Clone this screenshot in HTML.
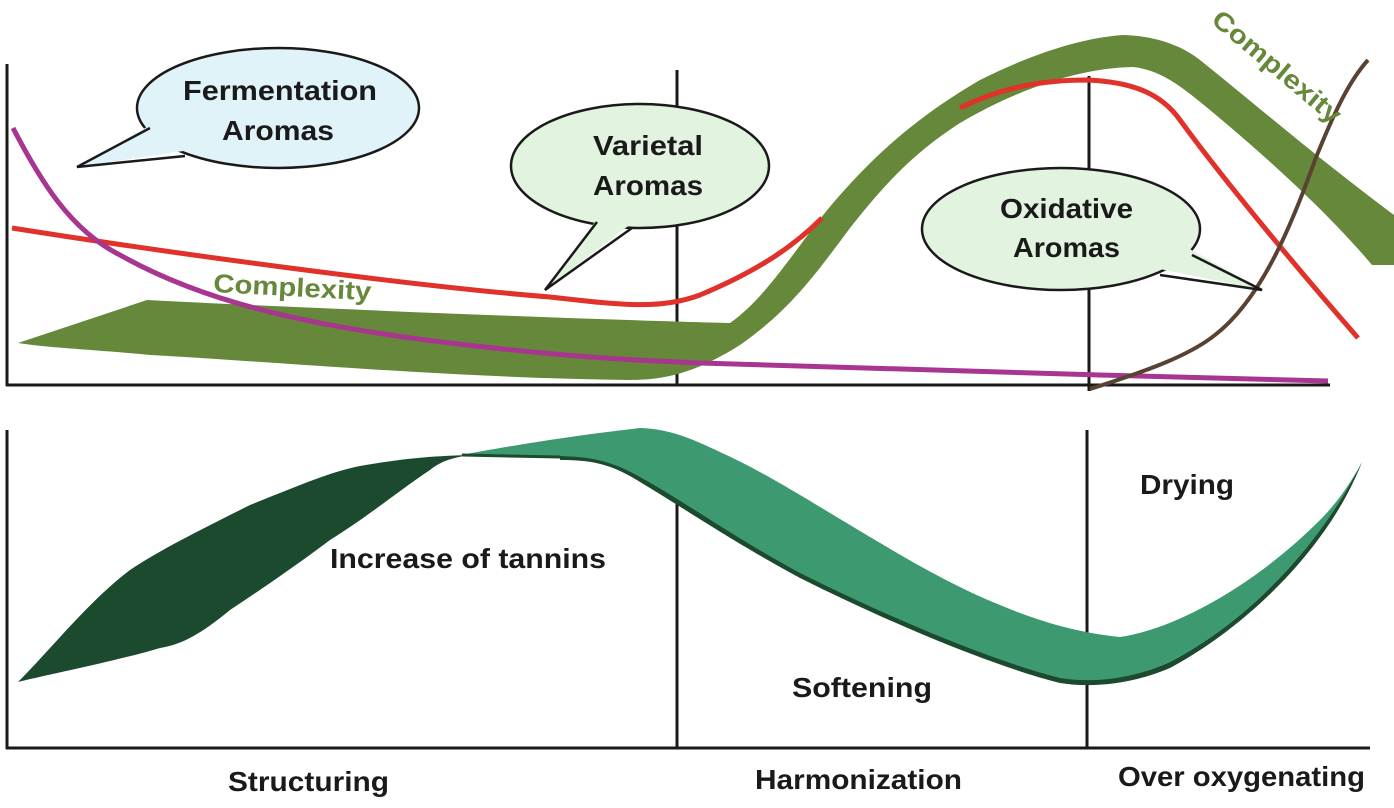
<!DOCTYPE html>
<html><head><meta charset="utf-8"><style>
html,body{margin:0;padding:0;background:#fff;}
svg{display:block;}
text{font-family:"Liberation Sans Narrow","Liberation Sans",sans-serif;font-weight:bold;fill:#1a1a1a;}
</style></head><body>
<svg width="1394" height="808" viewBox="0 0 1394 808" xmlns="http://www.w3.org/2000/svg">
<g stroke="#1a1a1a" stroke-width="3" fill="none">
<line x1="7" y1="64" x2="7" y2="386"/>
<line x1="6" y1="385" x2="1330" y2="385"/>
<line x1="677" y1="70" x2="677" y2="385"/>
<line x1="1089" y1="76" x2="1089" y2="391"/>
</g>
<path d="M18,343 L147,300 C300,308 600,320 730,323 C770,295 800,240 840,195 C880,150 920,115 980,80 C1030,55 1080,38 1123,35 C1160,36 1185,48 1200,60 C1250,100 1320,160 1394,215 L1394,265 L1372,265 C1330,215 1270,160 1210,110 C1180,85 1160,70 1133,67 C1080,68 1020,88 960,123 C910,155 880,190 850,228 C815,275 790,310 740,345 C700,370 670,380 630,380 C450,378 250,360 150,355 C100,350 50,348 18,343 Z" fill="#65883a"/>
<path d="M12,228 C150,250 400,285 550,297 C620,305 660,310 700,295 C760,270 795,245 822,218" stroke="#e0312b" stroke-width="5" fill="none"/>
<path d="M960,108 C1000,88 1040,80 1088,80 C1130,82 1160,92 1180,120 C1220,175 1290,260 1358,338" stroke="#e0312b" stroke-width="5" fill="none"/>
<path d="M13,128 C40,180 70,230 120,255 C200,300 300,325 450,343 C550,355 620,360 700,363 C850,368 1000,373 1100,375 C1200,378 1280,380 1328,381" stroke="#a8358f" stroke-width="5" fill="none"/>
<path d="M1090,389 C1150,370 1190,355 1215,335 C1260,300 1290,230 1315,160 C1335,110 1350,80 1368,60" stroke="#5a4233" stroke-width="4" fill="none"/>
<g stroke="#1a1a1a" stroke-width="2.5">
<ellipse cx="278" cy="108" rx="141" ry="60" fill="#e0f3f8"/>
<polygon points="152,124 77,167 190,150" fill="#e0f3f8" stroke="none"/>
<polyline points="150,128 77,167 185,156" fill="none"/>
<ellipse cx="640" cy="166" rx="129" ry="62" fill="#e2f3e0"/>
<polygon points="600,215 545,290 636,220" fill="#e2f3e0" stroke="none"/>
<polyline points="597,222 545,290 632,228" fill="none"/>
<ellipse cx="1061" cy="229" rx="139" ry="61" fill="#e2f3e0"/>
<polygon points="1188,248 1262,290 1155,268" fill="#e2f3e0" stroke="none"/>
<polyline points="1192,255 1262,290 1160,275" fill="none"/>
</g>
<text x="183" y="100" font-size="28" textLength="194" lengthAdjust="spacingAndGlyphs">Fermentation</text>
<text x="222" y="140" font-size="28" textLength="112" lengthAdjust="spacingAndGlyphs">Aromas</text>
<text x="593" y="155" font-size="28" textLength="110" lengthAdjust="spacingAndGlyphs">Varietal</text>
<text x="593" y="195" font-size="28" textLength="110" lengthAdjust="spacingAndGlyphs">Aromas</text>
<text x="1000" y="218" font-size="28" textLength="133" lengthAdjust="spacingAndGlyphs">Oxidative</text>
<text x="1013" y="257" font-size="28" textLength="107" lengthAdjust="spacingAndGlyphs">Aromas</text>
<text x="213" y="292" font-size="26" textLength="158" lengthAdjust="spacingAndGlyphs" transform="rotate(3 213 292)" style="fill:#65883a">Complexity</text>
<text x="1210" y="22" font-size="26" textLength="160" lengthAdjust="spacingAndGlyphs" transform="rotate(40 1210 22)" style="fill:#65883a">Complexity</text>
<g stroke="#1a1a1a" stroke-width="3" fill="none">
<line x1="7" y1="430" x2="7" y2="749"/>
<line x1="6" y1="748" x2="1370" y2="748"/>
<line x1="677" y1="490" x2="677" y2="748"/>
<line x1="1087" y1="430" x2="1087" y2="748"/>
</g>
<path d="M1362,462 C1330,545 1250,625 1170,668 C1130,685 1090,688 1060,683 C1000,668 900,628 800,578 C730,540 690,512 640,482 C610,463 590,460 560,460 L560,456 C590,456 610,459 640,476 C690,505 730,532 800,572 C900,622 1000,662 1060,677 C1090,682 1130,680 1170,662 C1250,620 1320,545 1362,462 Z" fill="#1b4a2e"/>
<path d="M460,455 C500,448 560,437 640,428 C670,429 690,438 720,452 C760,470 800,495 850,525 C900,555 950,585 1000,605 C1040,622 1080,633 1120,637 C1170,630 1250,590 1320,520 C1340,500 1352,480 1362,462 C1320,545 1250,620 1170,662 C1130,680 1090,683 1060,678 C1000,663 900,623 800,573 C730,535 690,505 640,477 C610,460 590,457 560,456 C520,455 490,455 460,455 Z" fill="#3d9970"/>
<path d="M18,682 C50,650 90,600 130,570 C160,550 200,530 250,505 C300,485 330,472 360,466 C400,459 430,456 470,455 C450,458 440,462 430,470 C400,490 370,515 330,540 C290,570 260,590 230,610 C200,635 180,645 160,648 C120,660 60,672 18,682 Z" fill="#1b4a2e"/>
<path d="M462,455 L560,457" stroke="#1b4a2e" stroke-width="3" fill="none"/>
<text x="330" y="568" font-size="28" textLength="276" lengthAdjust="spacingAndGlyphs">Increase of tannins</text>
<text x="792" y="697" font-size="28" textLength="140" lengthAdjust="spacingAndGlyphs">Softening</text>
<text x="1140" y="494" font-size="28" textLength="94" lengthAdjust="spacingAndGlyphs">Drying</text>
<text x="228" y="791" font-size="28" textLength="161" lengthAdjust="spacingAndGlyphs">Structuring</text>
<text x="755" y="789" font-size="28" textLength="207" lengthAdjust="spacingAndGlyphs">Harmonization</text>
<text x="1118" y="786" font-size="28" textLength="247" lengthAdjust="spacingAndGlyphs">Over oxygenating</text>
</svg>
</body></html>
